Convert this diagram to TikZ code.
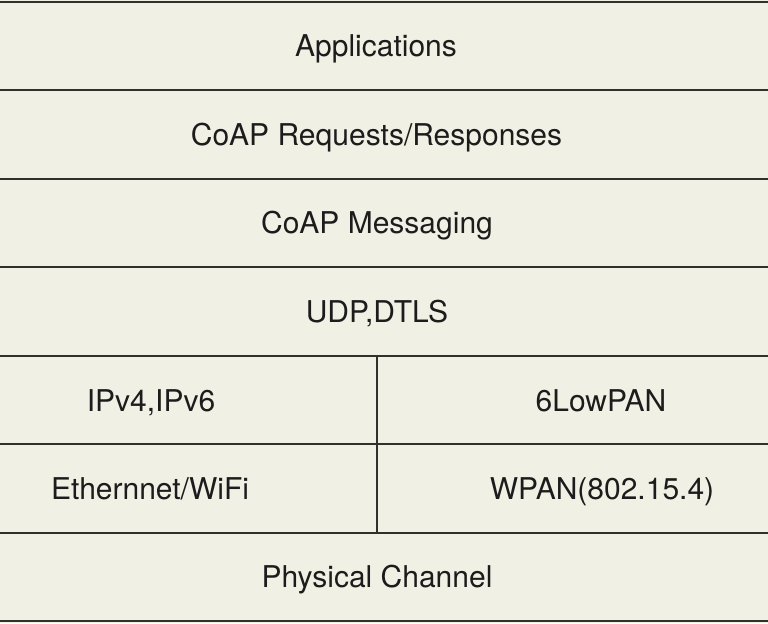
\documentclass[tikz,border=0pt]{standalone}
\usepackage{fontspec}
\setmainfont{TeX Gyre Heros}
\definecolor{layerbg}{RGB}{240,241,228}
\definecolor{layerline}{RGB}{48,48,44}
\definecolor{layerink}{RGB}{28,28,28}
\begin{document}
\begin{tikzpicture}[x=0.5pt,y=-0.5pt]
        % Styles
        \tikzstyle{layer text}=[anchor=base,inner sep=0pt,text=layerink,font=\fontsize{15}{18}\selectfont]
        \tikzstyle{layer rule}=[draw=layerline,line width=1pt]
        %background
        \fill[layerbg] (0,0) rectangle (768,623);
        \useasboundingbox (0,0) rectangle (768,623);
        %rules between the layers
        \foreach \y in {1.5,90,178.5,267,355.5,444,532.5,621}
        \draw[style=layer rule] (0,\y) -- (768,\y);
        \coordinate (split top) at (377,355.5);
        \coordinate (split bottom) at (377,532.5);
        \draw[style=layer rule] (split top) -- (split bottom);
        %layer names
        \node[style=layer text] (applications) at (376,56.75) {Applications};
        \node[style=layer text] (requests) at (376.5,145.25) {CoAP Requests/Responses};
        \node[style=layer text] (messaging) at (377,233.75) {CoAP Messaging};
        \node[style=layer text] (udp) at (377,322.25) {UDP,DTLS};
        \node[style=layer text] (ip) at (151,411) {IPv4,IPv6};
        \node[style=layer text] (lowpan) at (601,411) {6LowPAN};
        \node[style=layer text] (ethernet) at (150,499.25) {Ethernnet/WiFi};
        \node[style=layer text] (wpan) at (602,499.25) {WPAN(802.15.4)};
        \node[style=layer text] (physical) at (377,587.75) {Physical Channel};
\end{tikzpicture}
\end{document}
